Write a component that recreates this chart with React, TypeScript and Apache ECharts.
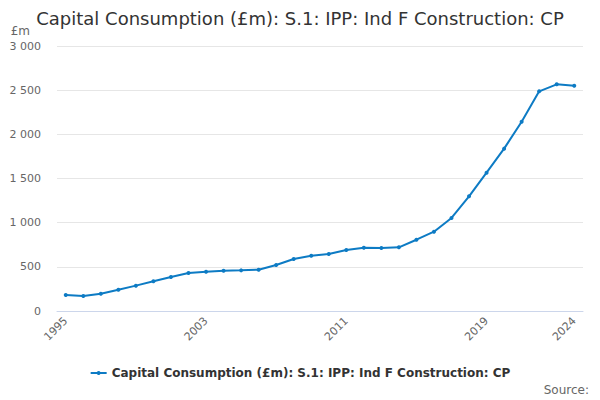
import React, { useEffect, useRef } from 'react';
import * as echarts from 'echarts';
import type { EChartsOption } from 'echarts';

const years = [
  '1995', '1996', '1997', '1998', '1999', '2000', '2001', '2002', '2003', '2004',
  '2005', '2006', '2007', '2008', '2009', '2010', '2011', '2012', '2013', '2014',
  '2015', '2016', '2017', '2018', '2019', '2020', '2021', '2022', '2023', '2024',
];

const capitalConsumption = [
  181, 170, 196, 241, 287, 336, 385, 430, 445, 456,
  460, 468, 521, 589, 626, 645, 690, 717, 713, 721,
  807, 898, 1053, 1298, 1566, 1838, 2143, 2487, 2566, 2551,
];

const seriesName = 'Capital Consumption (£m): S.1: IPP: Ind F Construction: CP';
const font = 'DejaVu Sans, sans-serif';

const fmt = (v: number) => String(v).replace(/\B(?=(\d{3})+(?!\d))/g, ' ');

const App: React.FC = () => {
  const chartRef = useRef<HTMLDivElement>(null);

  useEffect(() => {
    if (!chartRef.current) return;
    const chart = echarts.init(chartRef.current, undefined, { renderer: 'svg' });
    const last = years.length - 1;

    const option: EChartsOption = {
      animation: false,
      textStyle: { fontFamily: font },
      title: {
        text: seriesName,
        left: 'center',
        top: 4,
        textStyle: { fontFamily: font, fontSize: 18, fontWeight: 'normal', color: '#333333' },
      },
      grid: { left: 57, right: 17, top: 46, bottom: 89 },
      legend: {
        bottom: 16,
        left: 'center',
        itemWidth: 16,
        itemHeight: 5,
        itemGap: 6,
        textStyle: { fontFamily: font, fontSize: 12, fontWeight: 'bold', color: '#333333' },
        data: [seriesName],
      },
      graphic: [
        {
          type: 'text',
          right: 11,
          bottom: 4,
          style: { text: 'Source:', fontFamily: font, fontSize: 12, fill: '#666666' },
        },
      ],
      xAxis: {
        type: 'category',
        data: years,
        boundaryGap: true,
        axisLine: { lineStyle: { color: '#ccd6eb' } },
        axisTick: {
          alignWithLabel: true,
          length: 10,
          lineStyle: { color: '#ccd6eb' },
          interval: (i: number) => i % 2 === 0 || i === last,
        },
        axisLabel: {
          rotate: 45,
          color: '#666666',
          fontSize: 11,
          fontFamily: font,
          margin: 8,
          interval: (i: number) => i % 8 === 0 || i === last,
        },
        splitLine: { show: false },
      },
      yAxis: {
        type: 'value',
        min: 0,
        max: 3000,
        interval: 500,
        name: '£m',
        nameLocation: 'end',
        nameGap: 9,
        nameTextStyle: { color: '#666666', fontSize: 12, fontFamily: font, align: 'right', padding: [0, 27, 0, 0] },
        axisLine: { show: false },
        axisTick: { show: false },
        axisLabel: { color: '#666666', fontSize: 11, fontFamily: font, margin: 16, formatter: (v: number) => fmt(v) },
        splitLine: { lineStyle: { color: '#e6e6e6' } },
      },
      series: [
        {
          name: seriesName,
          type: 'line',
          data: capitalConsumption,
          color: '#0d7bc4',
          lineStyle: { width: 2 },
          symbol: 'circle',
          symbolSize: 4,
          itemStyle: { color: '#0d7bc4' },
        },
      ],
    };

    chart.setOption(option);
    return () => chart.dispose();
  }, []);

  return <div ref={chartRef} style={{ position: 'absolute', left: 0, top: 0, width: 600, height: 400 }} />;
};

export default App;
